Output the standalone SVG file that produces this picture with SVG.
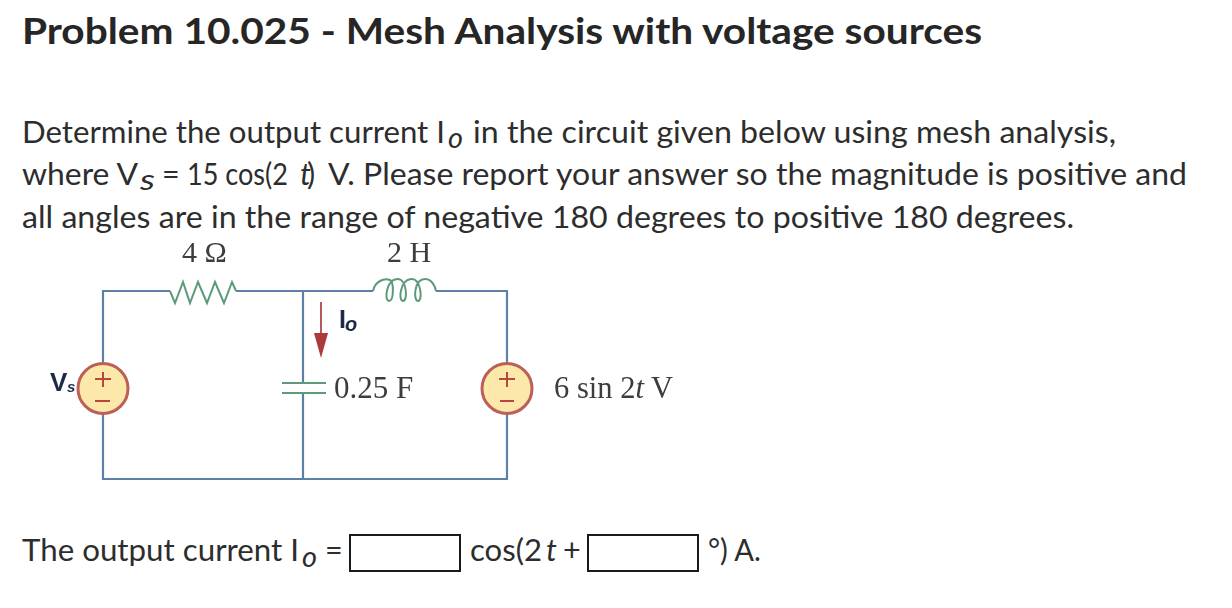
<svg xmlns="http://www.w3.org/2000/svg" width="1232" height="608" viewBox="0 0 1232 608">
<defs><filter id="soft" x="-5%" y="-5%" width="110%" height="110%"><feGaussianBlur stdDeviation="0.45"/></filter></defs>
<style>
text{font-family:"Lato","Noto Sans",sans-serif;fill:#2d2d2d}
.b{font-size:30.5px}
.h{font-size:36px;font-weight:700;fill:#262626}
.sub{font-style:italic;font-size:29px}
.it{font-style:italic}
.c{font-family:"Liberation Serif",serif;font-size:30px;fill:#3c3c3c}
.w{fill:none;stroke:#5b80a8;stroke-width:2.200}
.g{fill:none;stroke:#5b9a78;stroke-width:2}
.src{fill:#fce8a8;stroke:#bb5f58;stroke-width:3}
.sign{fill:none;stroke:#b5473f;stroke-width:2}
.box{fill:#fff;stroke:#1a1a1a;stroke-width:2}
.lbl{font-family:"Liberation Sans",sans-serif;font-weight:700;fill:#1f2a44}
</style>
<g id="title"><text class="h" x="22" y="44" textLength="960" lengthAdjust="spacingAndGlyphs">Problem 10.025 - Mesh Analysis with voltage sources</text></g>
<g id="question">
<text class="b" x="22" y="143" textLength="423" lengthAdjust="spacingAndGlyphs">Determine the output current I</text>
<text class="sub" x="448" y="148" textLength="15" lengthAdjust="spacingAndGlyphs">o</text>
<text class="b" x="473" y="143" textLength="643" lengthAdjust="spacingAndGlyphs">in the circuit given below using mesh analysis,</text>
<text class="b" x="22" y="185" textLength="116" lengthAdjust="spacingAndGlyphs">where V</text>
<text class="sub" x="140" y="190" textLength="15" lengthAdjust="spacingAndGlyphs">s</text>
<text class="b" x="162" y="185">=</text>
<text class="b" x="187" y="185" textLength="101" lengthAdjust="spacingAndGlyphs">15 cos(2</text>
<text class="b" x="300" y="185"><tspan class="it">t</tspan><tspan x="307">)</tspan></text>
<text class="b" x="328" y="185" textLength="859" lengthAdjust="spacingAndGlyphs">V. Please report your answer so the magnitude is positive and</text>
<text class="b" x="22" y="228" textLength="1052" lengthAdjust="spacingAndGlyphs">all angles are in the range of negative 180 degrees to positive 180 degrees.</text>
</g>
<g id="connectors" filter="url(#soft)">
<path class="w" d="M103 362V291H170M236 291H373M436 291H507V362M507 414V479H103V414"/>
<path class="w" d="M303 291V383M303 393V479"/>
</g>
<g id="resistor" filter="url(#soft)"><path class="g" d="M170 291L175 303L183 282L190 303L198 282L207 303L215 282L224 303L232 282L236 291"/><text class="c" x="182" y="262">4 Ω</text></g>
<g id="inductor" filter="url(#soft)"><path class="g" d="M373 291C375 281 384 278 390 280C394 282 394 301 389 301C384 301 386 280 397 279C407 278 408 301 403 301C398 301 400 280 411 279C421 278 423 301 418 301C413 301 414 279 425 279C431 279 435 285 436 291"/><text class="c" x="387" y="262">2 H</text></g>
<g id="current" filter="url(#soft)">
<path d="M321 302V333" fill="none" stroke="#b55a5a" stroke-width="2"/><path d="M314 333H328L321 358Z" fill="#ab3a3a"/>
<text class="lbl" x="339" y="328" font-size="25">I</text><text class="lbl" x="345" y="331" font-size="20" font-style="italic">o</text>
</g>
<g id="capacitor" filter="url(#soft)"><path class="g" d="M282 383H326M282 393H326"/><text class="c" x="334" y="398" style="font-size:31px">0.25 F</text></g>
<g id="source-left" filter="url(#soft)"><circle class="src" cx="103" cy="388.500" r="25"/><path class="sign" d="M95 379H111M103 372V387M95 401H110"/>
<text class="lbl" x="50" y="391" font-size="26">V</text><text class="lbl" x="67" y="392" font-size="15" font-style="italic">s</text></g>
<g id="source-right" filter="url(#soft)"><circle class="src" cx="507" cy="388.500" r="25"/><path class="sign" d="M499 379H515M507 372V387M500 401H514"/>
<text class="c" x="554" y="398" style="font-size:31px" textLength="119" lengthAdjust="spacingAndGlyphs">6 sin 2<tspan font-style="italic">t</tspan> V</text></g>
<g id="answer">
<text class="b" x="22" y="561" textLength="277" lengthAdjust="spacingAndGlyphs">The output current I</text>
<text class="sub" x="302" y="567" textLength="15" lengthAdjust="spacingAndGlyphs">o</text>
<text class="b" x="325" y="561">=</text>
<rect class="box" x="350" y="535" width="110" height="36"/>
<text class="b" x="470" y="561" textLength="72" lengthAdjust="spacingAndGlyphs">cos(2</text>
<text class="b it" x="546" y="561">t</text>
<text class="b" x="563" y="561">+</text>
<rect class="box" x="588" y="535" width="110" height="36"/>
<text class="b" x="708" y="561" textLength="53" lengthAdjust="spacingAndGlyphs">°) A.</text>
</g>
</svg>
